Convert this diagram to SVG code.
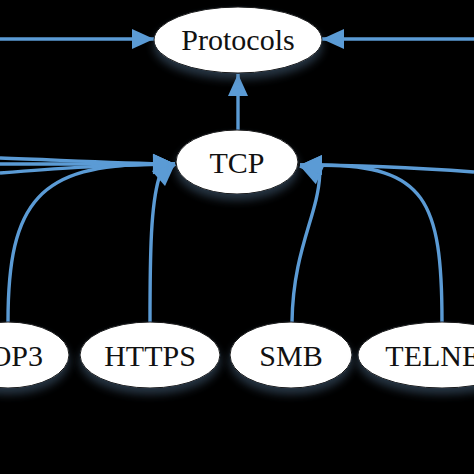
<svg xmlns="http://www.w3.org/2000/svg" width="474" height="474" viewBox="0 0 474 474">
<defs>
<style>
.edge{fill:none;stroke:#5b9bd5;stroke-width:3.4;marker-end:url(#arr)}
.node ellipse{fill:#ffffff;stroke:#1a1a1a;stroke-width:1;filter:url(#glow)}
.node text{font-family:"Liberation Serif","Times New Roman",serif;font-size:30px;fill:#111;text-anchor:middle}
</style>
<marker id="arr" markerUnits="userSpaceOnUse" markerWidth="22" markerHeight="20" refX="22" refY="10" orient="auto" overflow="visible">
<path d="M0,0 L22,10 L0,20 z" fill="#5b9bd5"/>
</marker>
<filter id="glow" x="-30%" y="-40%" width="160%" height="190%">
<feGaussianBlur in="SourceAlpha" stdDeviation="4"/>
<feOffset dy="6" result="b"/>
<feFlood flood-color="#5f83a6" flood-opacity="0.4"/>
<feComposite in2="b" operator="in" result="s"/>
<feMerge><feMergeNode in="s"/><feMergeNode in="SourceGraphic"/></feMerge>
</filter>
</defs>
<rect width="474" height="474" fill="#000"/>
<g id="connectors">
<path class="edge" d="M0,39 L154,39"/>
<path class="edge" d="M474,39 L322,39"/>
<path class="edge" d="M238,130 L238,74"/>
<path class="edge" d="M0,158 C60,160 110,163 175,164"/>
<path class="edge" d="M0,164 C60,164 110,164 175,164"/>
<path class="edge" d="M0,173 C50,169 100,165 175,164"/>
<path class="edge" d="M8,322 C8,200 40,165 155,164 L175,164"/>
<path class="edge" d="M150,322 C150,250 151,205 159,178 L175,164"/>
<path class="edge" d="M292,322 C293,250 318,215 319.7,175 L300,166"/>
<path class="edge" d="M442,322 C442,200 425,166 322,165 L300,165"/>
<path class="edge" d="M474,172 C420,168 370,165 300,165"/>
</g>
<g id="node-protocols" class="node"><ellipse cx="238" cy="40" rx="84" ry="33"/><text x="238" y="50">Protocols</text></g>
<g id="node-tcp" class="node"><ellipse cx="237" cy="162" rx="61" ry="32"/><text x="237" y="173">TCP</text></g>
<g id="node-pop3" class="node"><ellipse cx="8" cy="355" rx="61" ry="33"/><text x="8" y="366">POP3</text></g>
<g id="node-https" class="node"><ellipse cx="150" cy="355" rx="70" ry="33"/><text x="150" y="366">HTTPS</text></g>
<g id="node-smb" class="node"><ellipse cx="291" cy="355" rx="61" ry="33"/><text x="291" y="366">SMB</text></g>
<g id="node-telnet" class="node"><ellipse cx="442" cy="355" rx="84" ry="33"/><text x="442" y="366">TELNET</text></g>
</svg>
